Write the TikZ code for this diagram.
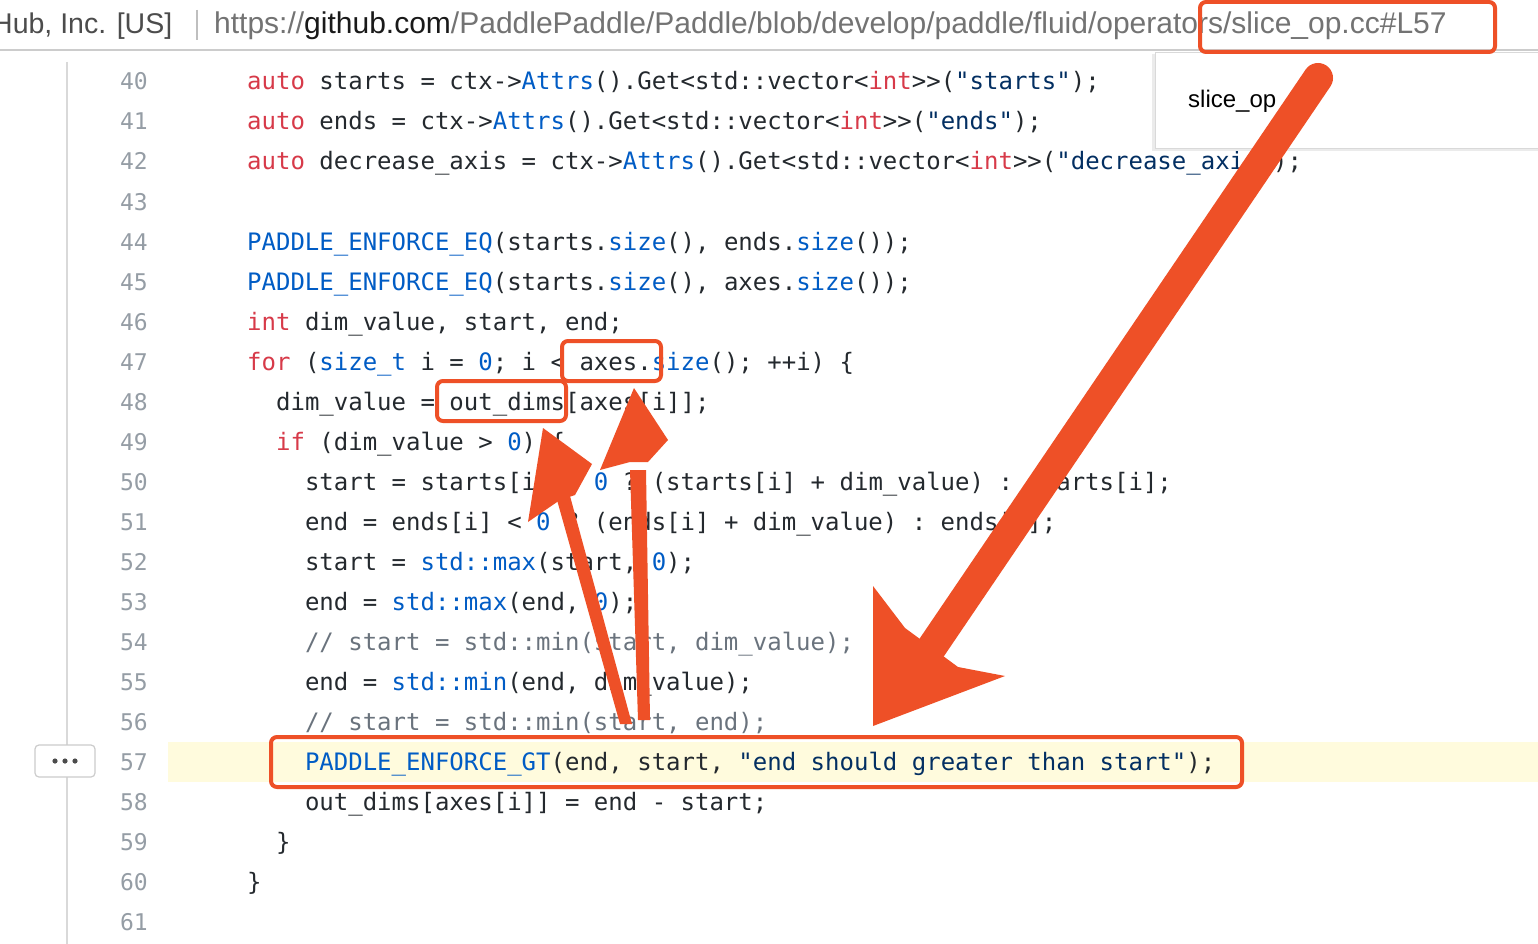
\documentclass[tikz,border=0pt]{standalone}
\usepackage{fontspec}
\setmainfont{Liberation Sans}
\setmonofont{DejaVu Sans Mono}
\definecolor{kw}{HTML}{D73A49}
\definecolor{fn}{HTML}{005CC5}
\definecolor{st}{HTML}{032F62}
\definecolor{tx}{HTML}{24292E}
\definecolor{ln}{HTML}{959DA5}
\definecolor{cm}{HTML}{6A737D}
\definecolor{hl}{HTML}{FFFBDD}
\definecolor{ann}{HTML}{EE5027}
\newcommand{\kw}[1]{\textcolor{kw}{#1}}
\newcommand{\fn}[1]{\textcolor{fn}{#1}}
\newcommand{\st}[1]{\textcolor{st}{#1}}
\newcommand{\cmt}[1]{\textcolor{cm}{#1}}
\tikzset{
 code/.style={anchor=base west,inner sep=0pt,font=\fontsize{24}{28}\ttfamily,text=tx},
 lnum/.style={anchor=base east,inner sep=0pt,font=\fontsize{23}{28}\ttfamily,text=ln},
 annbox/.style={draw=ann,line width=4pt,rounded corners=6pt},
 annfill/.style={fill=ann,draw=none}
}
\newcommand{\cl}[3]{%
 \node[lnum] (n#1) at (148,{(#1-40)*40+90}) {#1};
 \node[code] (c#1) at ({247+#2*14.45},{(#1-40)*40+90}) {#3};}
\begin{document}
\begin{tikzpicture}[x=1pt,y=-1pt]
\useasboundingbox (0,0) rectangle (1538,944);
\fill[white] (0,0) rectangle (1538,944);
% top bar
\draw[gray!40,line width=1.5pt] (0,50) -- (1538,50);
\node[anchor=base west,inner sep=0pt,font=\fontsize{28.5}{30}\selectfont,text=black!70] (org) at (-8,34) {Hub, Inc. [US]};
\draw[gray!50,line width=1.5pt] (197,10) -- (197,40);
\node[anchor=base west,inner sep=0pt,font=\fontsize{30}{32}\selectfont,text=black!55] (url) at (214,34) {https://\textcolor{black!90}{github.com}/PaddlePaddle/Paddle/blob/develop/paddle/fluid/operators/slice\_op.cc\#L57};
% gutter
\draw[gray!30,line width=1.5pt] (67,62) -- (67,944);
\fill[hl] (168,742) rectangle (1538,782);
\draw[gray!40,line width=1.2pt,rounded corners=4pt,fill=white] (35,745) rectangle (95,777);
\foreach \i in {55,65,75} \fill[black!70] (\i,761) circle (2.6);
% code
\cl{40}{0}{\kw{auto} starts = ctx->\fn{Attrs}().Get<std::vector<\kw{int}>>(\st{"starts"});}
\cl{41}{0}{\kw{auto} ends = ctx->\fn{Attrs}().Get<std::vector<\kw{int}>>(\st{"ends"});}
\cl{42}{0}{\kw{auto} decrease\_axis = ctx->\fn{Attrs}().Get<std::vector<\kw{int}>>(\st{"decrease\_axis"});}
\cl{43}{0}{}
\cl{44}{0}{\fn{PADDLE\_ENFORCE\_EQ}(starts.\fn{size}(), ends.\fn{size}());}
\cl{45}{0}{\fn{PADDLE\_ENFORCE\_EQ}(starts.\fn{size}(), axes.\fn{size}());}
\cl{46}{0}{\kw{int} dim\_value, start, end;}
\cl{47}{0}{\kw{for} (\fn{size\_t} i = \fn{0}; i < axes.\fn{size}(); ++i) \{}
\cl{48}{2}{dim\_value = out\_dims[axes[i]];}
\cl{49}{2}{\kw{if} (dim\_value > \fn{0}) \{}
\cl{50}{4}{start = starts[i] < \fn{0} ? (starts[i] + dim\_value) : starts[i];}
\cl{51}{4}{end = ends[i] < \fn{0} ? (ends[i] + dim\_value) : ends[i];}
\cl{52}{4}{start = \fn{std::max}(start, \fn{0});}
\cl{53}{4}{end = \fn{std::max}(end, \fn{0});}
\cl{54}{4}{\cmt{// start = std::min(start, dim\_value);}}
\cl{55}{4}{end = \fn{std::min}(end, dim\_value);}
\cl{56}{4}{\cmt{// start = std::min(start, end);}}
\cl{57}{4}{\fn{PADDLE\_ENFORCE\_GT}(end, start, \st{"end should greater than start"});}
\cl{58}{4}{out\_dims[axes[i]] = end - start;}
\cl{59}{2}{\}}
\cl{60}{0}{\}}
\cl{61}{0}{}
% popup
\fill[black!8] (1152,54) rectangle (1538,151);
\draw[gray!30,fill=white] (1155,52) rectangle (1540,148);
\node[anchor=base west,inner sep=0pt,font=\fontsize{24}{28}\selectfont] (pop) at (1188,108) {slice\_op};
% boxes
\draw[annbox] (1200,2) rectangle (1495,52);
\draw[annbox] (562,341) rectangle (661,381);
\draw[annbox] (437,381) rectangle (566,421);
\draw[annbox] (271,737) rectangle (1242,787);
% arrows
\coordinate (a1s) at (1318,78);
\coordinate (a1t) at (873,726);
\draw[ann,line width=30pt,line cap=round] (a1s) -- (930,650);
\fill[annfill] (a1t) -- (873,586) -- (905,628) -- (958,667) -- (1005,676) -- cycle;
\coordinate (a2t) at (543,428);
\fill[annfill] (632,724) -- (620,724) -- (557,500) -- (570,496) -- cycle;
\fill[annfill] (a2t) -- (528,522) -- (560,500) -- (575,495) -- (592,464) -- cycle;
\coordinate (a3t) at (634,388);
\fill[annfill] (650,720) -- (638,720) -- (630,470) -- (646,470) -- cycle;
\fill[annfill] (a3t) -- (600,470) -- (630,462) -- (648,462) -- (668,440) -- cycle;
\end{tikzpicture}
\end{document}
